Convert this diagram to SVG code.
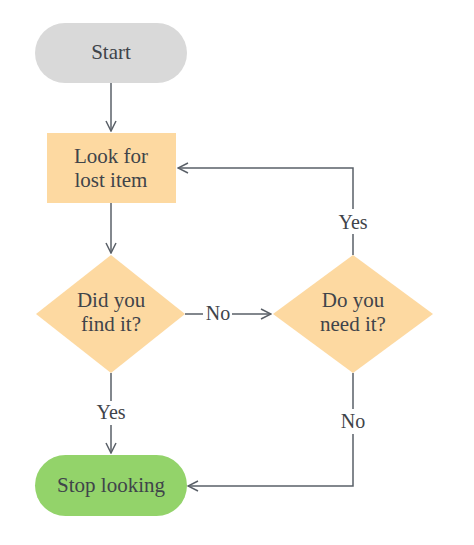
<svg xmlns="http://www.w3.org/2000/svg" width="474" height="545" viewBox="0 0 474 545">
<defs>
<marker id="arr" viewBox="0 0 12 12" refX="11" refY="6" markerWidth="12" markerHeight="12" markerUnits="userSpaceOnUse" orient="auto">
<path d="M1,1 L11,6 L1,11" fill="none" stroke="#5a6068" stroke-width="1.5"/>
</marker>
<style>
.t{font-family:"Liberation Serif","DejaVu Serif",serif;font-size:21px;fill:#3f444a;text-anchor:middle}
.l{font-family:"Liberation Serif","DejaVu Serif",serif;font-size:20px;fill:#3f444a;text-anchor:middle}
.c{fill:none;stroke:#5a6068;stroke-width:1.5}
.p{fill:#fdd9a1}
</style>
</defs>
<rect width="474" height="545" fill="#fff"/>
<g id="connectors">
<path class="c" d="M111,83 V131" marker-end="url(#arr)"/>
<path class="c" d="M111,203 V253" marker-end="url(#arr)"/>
<path class="c" d="M185,314 H203 M232,314 H271" marker-end="url(#arr)"/>
<path class="c" d="M353,255 V234 M353,209 V168 H178" marker-end="url(#arr)"/>
<path class="c" d="M111,373 V401 M111,425 V453" marker-end="url(#arr)"/>
<path class="c" d="M353,373 V409 M353,434 V486 H188" marker-end="url(#arr)"/>
<text class="l" x="218" y="320">No</text>
<text class="l" x="353" y="229">Yes</text>
<text class="l" x="111" y="419">Yes</text>
<text class="l" x="353" y="428">No</text>
</g>
<g id="start">
<rect x="35" y="23" width="152" height="60" rx="30" fill="#d9d9d9"/>
<text class="t" x="111" y="59">Start</text>
</g>
<g id="look">
<rect class="p" x="47" y="133" width="129" height="70"/>
<text class="t" x="111" y="163">Look for</text>
<text class="t" x="111" y="187">lost item</text>
</g>
<g id="found">
<polygon class="p" points="111,255 185,314 111,373 36,314"/>
<text class="t" x="111" y="307">Did you</text>
<text class="t" x="111" y="331">find it?</text>
</g>
<g id="need">
<polygon class="p" points="353,255 433,314 353,373 273,314"/>
<text class="t" x="353" y="307">Do you</text>
<text class="t" x="353" y="331">need it?</text>
</g>
<g id="stop">
<rect x="35" y="455" width="152" height="61" rx="30.5" fill="#93d36a"/>
<text class="t" x="111" y="492">Stop looking</text>
</g>
</svg>
